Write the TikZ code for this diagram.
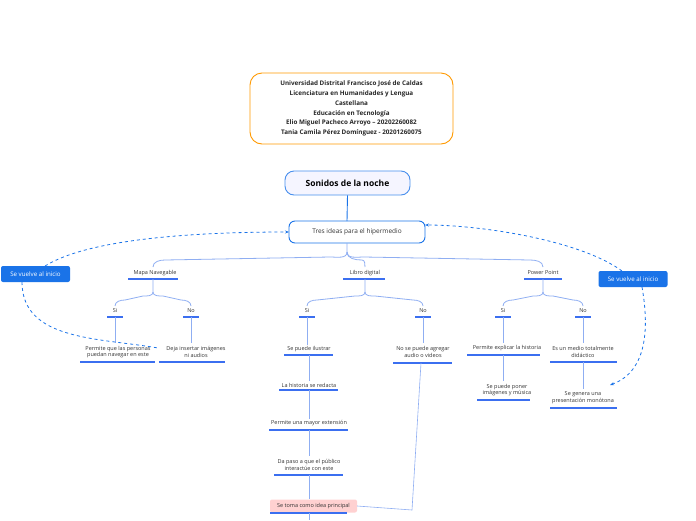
\documentclass[tikz,border=0pt]{standalone}
\usepackage{fontspec}
\setmainfont{Open Sans}
\usetikzlibrary{arrows.meta}
\definecolor{ul}{HTML}{3B6FF0}
\definecolor{ln}{HTML}{8FAEF2}
\definecolor{bx}{HTML}{1A73E8}
\begin{document}
\begin{tikzpicture}[x=1pt,y=-1pt,
 lbl/.style={font=\fontsize{5.5}{6.8}\selectfont,text=black!80,align=center,inner sep=1pt},
 ulin/.style={draw=ul,line width=1.6pt},
 con/.style={draw=ln,line width=0.8pt},
 dsh/.style={draw=bx,dashed,line width=0.8pt},
 back/.style={fill=bx,text=white,rounded corners=2pt,minimum width=69pt,minimum height=16pt,font=\fontsize{6.2}{7}\selectfont,inner sep=1pt}]
\useasboundingbox (0,0) rectangle (696,520);
% top box
\node[draw=orange!80!yellow,line width=0.9pt,rounded corners=12pt,minimum width=203pt,minimum height=71pt,align=center,font=\bfseries\fontsize{6.3}{9.8}\selectfont,text=black!85] (top) at (351.5,108.5) {Universidad Distrital Francisco José de Caldas\\Licenciatura en Humanidades y Lengua\\Castellana\\Educación en Tecnología\\Elio Miguel Pacheco Arroyo – 20202260082\\Tania Camila Pérez Domínguez - 20201260075};
\node[draw=bx!80,fill=blue!4,line width=0.9pt,rounded corners=9pt,minimum width=125pt,minimum height=24pt,font=\bfseries\fontsize{8.5}{10}\selectfont] (son) at (347.5,183) {Sonidos de la noche};
\node[draw=bx,line width=0.9pt,rounded corners=6pt,minimum width=136pt,minimum height=22pt,font=\fontsize{6.5}{8}\selectfont,text=black!80] (tres) at (357,232) {Tres ideas para el hipermedio};
\draw[draw=bx,line width=0.9pt] (son.south) -- (347,221);
% level 1
\node[lbl] (mapa) at (155,273) {Mapa Navegable};
\node[lbl] (libro) at (365,273) {Libro digital};
\node[lbl] (pp) at (543,273) {Power Point};
\draw[ulin] (128,279) -- (178,279); \draw[ulin] (343,279) -- (385,279); \draw[ulin] (524,279) -- (562,279);
\draw[con] (347,243) -- (347,252) to[out=270,in=0] (330,257) -- (165,260) to[out=180,in=90] (153,267);
\draw[con] (347,252) to[out=270,in=180] (362,260) to[out=0,in=90] (365,267);
\draw[con] (347,252) to[out=270,in=180] (364,257) -- (530,260) to[out=0,in=90] (543,267);
% level 2 branches
\foreach \p/\a/\b in {153/115/191, 365/307/423, 543/503/583}{
 \draw[con] (\p,279) -- (\p,292) to[out=270,in=0] (\p-10,296) -- (\a+10,300) to[out=180,in=90] (\a,306);
 \draw[con] (\p,292) to[out=270,in=180] (\p+10,296) -- (\b-10,300) to[out=0,in=90] (\b,306);}
\node[lbl] (s1) at (115,311) {Si}; \node[lbl] (n1) at (191,311) {No};
\node[lbl] (s2) at (307,311) {Si}; \node[lbl] (n2) at (423,311) {No};
\node[lbl] (s3) at (503,311) {Si}; \node[lbl] (n3) at (583,311) {No};
\foreach \x in {115,191,307,423,503,583}{\draw[ulin] (\x-8,317) -- (\x+8,317);}
% leaves
\node[lbl] (pq) at (118,352) {Permite que las personas\\puedan navegar en este};
\draw[ulin] (80,362) -- (155,362);
\node[lbl] (dj) at (196,352) {Deja insertar imágenes\\ni audios};
\draw[ulin] (159,362) -- (225,362);
\draw[con] (115,317) -- (115,343); \draw[con] (191,317) -- (191,343);
\node[lbl] (il) at (309,349) {Se puede ilustrar}; \draw[ulin] (284,355) -- (333,355);
\node[lbl] (hr) at (309,385) {La historia se redacta}; \draw[ulin] (279,390) -- (338,390);
\node[lbl] (me) at (309,423) {Permite una mayor extensión}; \draw[ulin] (269,430) -- (348,430);
\node[lbl] (dp) at (309,465) {Da paso a que el público\\interactúe con este}; \draw[ulin] (274,475) -- (343,475);
\node[fill=red!18,rounded corners=2pt,minimum width=87pt,minimum height=13pt,font=\fontsize{5.5}{6.8}\selectfont,text=black!80,inner sep=1pt] (tm) at (313.5,506) {Se toma como idea principal};
\draw[ulin] (270,513) -- (347,513);
\draw[con] (307,317) -- (307,345) (309,355) -- (309,381) (309,390) -- (309,419) (309,430) -- (309,456) (309,475) -- (309,499) (309,513) -- (309,520);
\node[lbl] (ag) at (423,352) {No se puede agregar\\audio o videos}; \draw[ulin] (393,363) -- (452,363);
\draw[con] (423,317) -- (423,343);
\draw[draw=ln,line width=0.6pt] (421,363) -- (412,510) -- (tm.east);
\node[lbl] (ex) at (507,348) {Permite explicar la historia}; \draw[ulin] (467,355) -- (540,355);
\node[lbl] (im) at (507,390) {Se puede poner\\imágenes y música}; \draw[ulin] (477,400) -- (530,400);
\draw[con] (503,317) -- (503,343) (503,355) -- (503,381);
\node[lbl] (dd) at (583,352) {Es un medio totalmente\\didáctico}; \draw[ulin] (550,362) -- (617,362);
\node[lbl] (mo) at (583,398) {Se genera una\\presentación monótona}; \draw[ulin] (550,408) -- (617,408);
\draw[con] (583,317) -- (583,343) (583,362) -- (583,389);
% back boxes
\node[back] (b1) at (35.5,274) {Se vuelve al inicio};
\node[back] (b2) at (633,279) {Se vuelve al inicio};
\draw[dsh,-{Stealth[length=4pt]}] (45,266) .. controls (90,238) and (200,232) .. (289,232);
\draw[dsh] (22,282) to[out=270,in=170] (158,348);
\draw[dsh,-{Stealth[length=4pt]}] (622,271) .. controls (580,240) and (480,225) .. (425,225);
\draw[dsh,-{Stealth[length=4pt]}] (642,287) to[out=280,in=20] (610,385);
\end{tikzpicture}
\end{document}
